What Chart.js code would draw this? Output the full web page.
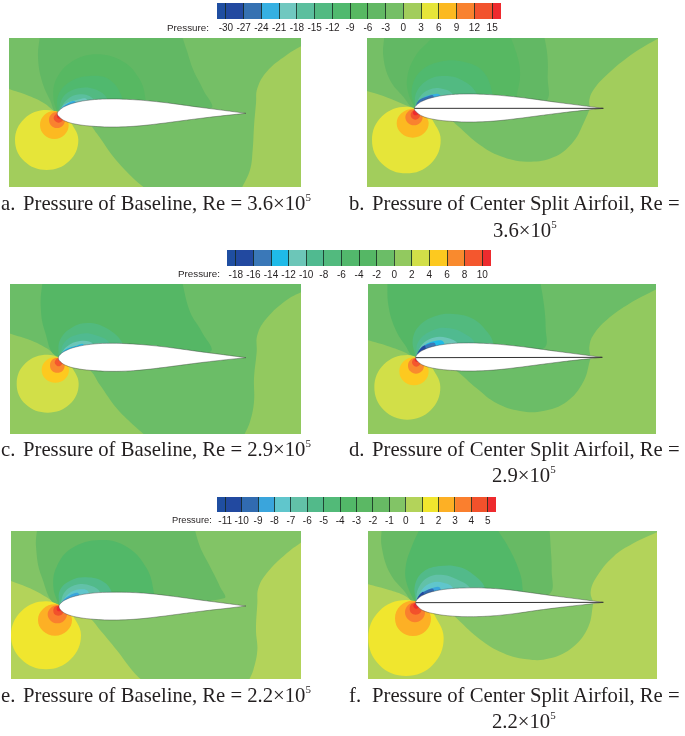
<!DOCTYPE html>
<html>
<head>
<meta charset="utf-8">
<title>Pressure contours</title>
<script src="https://cdn.jsdelivr.net/npm/chart.js@4"></script>
<style>
    html, body { margin: 0; background: #fff; }
    body { position: relative; width: 685px; height: 736px; overflow: hidden; }
    canvas { position: absolute; display: block; filter: blur(0.4px); }
    .cap { position: absolute; font: 20.7px "Liberation Serif", serif; color: #231f20; white-space: nowrap; line-height: 24px; filter: blur(0.3px); }
    .cap sup { font-size: 11px; line-height: 0; vertical-align: 9px; }
    .lab { position: absolute; font-family: "Liberation Sans", sans-serif; color: #231f20; white-space: nowrap; line-height: 12px; filter: blur(0.3px); }
</style>
</head>
<body>
<canvas id="bar1" width="284" height="32" style="left:217px;top:3px"></canvas>
<canvas id="bar2" width="264" height="32" style="left:227px;top:250px"></canvas>
<canvas id="bar3" width="279" height="31" style="left:217px;top:497px"></canvas>
<span class="lab" style="left:167px;top:22px;font-size:9.8px">Pressure:</span>
<span class="lab" style="left:178px;top:268px;font-size:9.8px">Pressure:</span>
<span class="lab" style="left:172px;top:514px;font-size:9.3px">Pressure:</span>

<canvas id="panelA" width="292" height="149" style="left:9px;top:38px"></canvas>
<canvas id="panelB" width="291" height="149" style="left:367px;top:38px"></canvas>
<canvas id="panelC" width="291" height="150" style="left:10px;top:284px"></canvas>
<canvas id="panelD" width="288" height="150" style="left:368px;top:284px"></canvas>
<canvas id="panelE" width="290" height="148" style="left:11px;top:531px"></canvas>
<canvas id="panelF" width="289" height="148" style="left:368px;top:531px"></canvas>

<span class="cap" style="left:1px;top:191px">a.</span>
<span class="cap" style="left:23px;top:191px">Pressure of Baseline, Re = 3.6×10<sup>5</sup></span>
<span class="cap" style="left:349px;top:191px">b.</span>
<span class="cap" style="left:372px;top:191px">Pressure of Center Split Airfoil, Re =</span>
<span class="cap" style="left:493px;top:218px">3.6×10<sup>5</sup></span>
<span class="cap" style="left:1px;top:437px">c.</span>
<span class="cap" style="left:23px;top:437px">Pressure of Baseline, Re = 2.9×10<sup>5</sup></span>
<span class="cap" style="left:349px;top:437px">d.</span>
<span class="cap" style="left:372px;top:437px">Pressure of Center Split Airfoil, Re =</span>
<span class="cap" style="left:492px;top:463px">2.9×10<sup>5</sup></span>
<span class="cap" style="left:1px;top:683px">e.</span>
<span class="cap" style="left:23px;top:683px">Pressure of Baseline, Re = 2.2×10<sup>5</sup></span>
<span class="cap" style="left:349px;top:683px">f.</span>
<span class="cap" style="left:372px;top:683px">Pressure of Center Split Airfoil, Re =</span>
<span class="cap" style="left:492px;top:709px">2.2×10<sup>5</sup></span>

<script>
// colour bar levels
const levels1 = [-30, -27, -24, -21, -18, -15, -12, -9, -6, -3, 0, 3, 6, 9, 12, 15];
const levels2 = [-18, -16, -14, -12, -10, -8, -6, -4, -2, 0, 2, 4, 6, 8, 10];
const levels3 = [-11, -10, -9, -8, -7, -6, -5, -4, -3, -2, -1, 0, 1, 2, 3, 4, 5];
const range1 = [-31.5, 16.5];
const range2 = [-19, 11];
const range3 = [-11.5, 5.5];
const colors1 = ['#1f4ea1', '#2249a0', '#3571b2', '#35b0e2', '#70c8c0', '#5bbf9e', '#52ba82', '#50b96e', '#57b862', '#62b864', '#75bf66', '#a2cd5c', '#e6e539', '#fcb921', '#f9822f', '#f2532e', '#ee2a2e'];
const colors2 = ['#1f4ea1', '#2249a0', '#3a78b8', '#1fbbe8', '#6cc6b8', '#50ba90', '#52ba7e', '#52b86c', '#55b765', '#6bbd67', '#92c95f', '#d2df48', '#fdc91f', '#f98a2e', '#f4572e', '#ed2b2e'];
const colors3 = ['#1f4ea1', '#2249a0', '#316bb0', '#3aa5dc', '#60c6cc', '#62c1a8', '#52ba8a', '#52ba78', '#52b868', '#5bb864', '#67ba64', '#82c466', '#b3d35a', '#f0e62e', '#fdb025', '#fa7f2e', '#f2512b', '#ee2a2e'];

// contour bands: [colour bar box, outline as [x, y]], painted in this order
const bandsA = [
    [11, [[20,262],[28,267],[80,285],[130,308],[172,338],[265,372],[290,400],[340,470],[395,530],[435,565],[435,565],[15,570],[15,570],[20,262]]],
    [11, [[910,135],[860,165],[800,215],[772,265],[768,310],[762,380],[758,450],[750,510],[725,565],[725,565],[910,570],[910,570],[910,135]]],
    [9, [[120,105],[114,170],[125,240],[150,300],[175,340],[400,340],[632,325],[610,270],[580,210],[560,150],[545,105],[545,105],[120,105]]],
    [8, [[172,338],[160,290],[170,235],[215,185],[290,163],[370,185],[420,240],[437,300],[437,340]]],
    [7, [[172,338],[175,285],[210,245],[270,228],[330,240],[368,297],[368,340]]],
    [6, [[175,338],[190,290],[235,265],[285,268],[322,297],[322,340]]],
    [5, [[176,338],[200,300],[240,283],[280,298],[280,340]]],
    [4, [[174,338],[195,312],[230,300],[260,298],[260,340]]],
    [3, [[174,338],[190,318],[225,304],[225,340]]],
    [12, [[207,356],[140,330],[73,356],[45,420],[73,484],[140,510],[207,484],[235,420],[207,356]]],
    [13, [[193,345],[163,333],[133,345],[120,375],[133,405],[163,417],[193,405],[206,375],[193,345]]],
    [14, [[188,343],[171,336],[154,343],[147,360],[154,377],[171,384],[188,377],[195,360],[188,343]]],
    [15, [[186,344],[176,340],[166,344],[161,354],[166,364],[176,368],[186,364],[190,354],[186,344]]],
    [16, [[183,344],[178,342],[173,344],[171,349],[173,354],[178,356],[183,354],[185,349],[183,344]]]
];
const bandsB = [
    [11, [[70,270],[130,288],[223,325],[320,350],[350,375],[420,435],[480,468],[560,485],[640,472],[700,425],[735,360],[750,325],[750,325],[748,300],[760,270],[800,225],[880,160],[960,112],[960,112],[960,570],[960,570],[70,570],[70,570],[70,270]]],
    [9, [[133,105],[130,170],[150,240],[190,290],[225,325],[500,340],[617,305],[623,230],[622,165],[612,105],[612,105],[133,105]]],
    [8, [[225,325],[205,280],[202,230],[225,170],[265,125],[290,105],[290,105],[510,105],[510,105],[535,180],[540,230],[530,293],[530,340]]],
    [7, [[225,325],[215,270],[240,215],[300,185],[370,185],[430,215],[458,285],[458,340]]],
    [6, [[225,325],[228,280],[260,242],[310,228],[365,240],[410,282],[410,340]]],
    [5, [[225,325],[240,290],[265,270],[300,265],[340,285],[340,340]]],
    [3, [[225,325],[240,300],[270,285],[300,285],[300,330]]],
    [2, [[225,325],[235,302],[260,290],[280,287],[280,330]]],
    [12, [[272,349],[199,320],[126,349],[96,420],[126,491],[199,520],[272,491],[302,420],[272,349]]],
    [13, [[252,340],[218,327],[184,340],[170,370],[184,400],[218,413],[252,400],[266,370],[252,340]]],
    [14, [[240,335],[222,328],[204,335],[196,352],[204,369],[222,376],[240,369],[248,352],[240,335]]],
    [15, [[236,335],[226,331],[216,335],[212,345],[216,355],[226,359],[236,355],[240,345],[236,335]]],
    [16, [[233,332],[227,330],[221,332],[219,338],[221,344],[227,346],[233,344],[235,338],[233,332]]]
];
const bandsC = [
    [10, [[25,262],[32,266],[90,285],[140,310],[175,335],[265,372],[300,420],[350,490],[400,540],[440,575],[440,575],[20,575],[20,575],[25,262]]],
    [10, [[910,138],[860,165],[800,220],[772,270],[770,320],[762,400],[762,470],[750,530],[730,575],[730,575],[910,575],[910,575],[910,138]]],
    [8, [[128,105],[122,180],[135,260],[175,335],[400,335],[630,320],[605,260],[570,200],[545,105],[545,105],[128,105]]],
    [6, [[175,335],[180,285],[215,248],[265,234],[320,250],[368,295],[368,335]]],
    [5, [[178,335],[195,290],[240,267],[285,270],[330,295],[330,335]]],
    [4, [[178,335],[200,305],[240,288],[280,297],[280,335]]],
    [3, [[177,335],[195,314],[230,302],[250,298],[250,335]]],
    [11, [[209,354],[143,329],[77,354],[50,416],[77,478],[143,503],[209,478],[236,416],[209,354]]],
    [12, [[195,348],[166,337],[137,348],[125,375],[137,402],[166,413],[195,402],[207,375],[195,348]]],
    [13, [[188,345],[172,339],[156,345],[150,361],[156,377],[172,383],[188,377],[194,361],[188,345]]],
    [14, [[184,344],[176,340],[168,344],[164,352],[168,360],[176,364],[184,360],[188,352],[184,344]]]
];
const bandsD = [
    [10, [[75,282],[85,286],[140,302],[190,320],[227,338],[320,360],[350,378],[410,430],[470,475],[540,498],[610,498],[680,470],[730,410],[752,338],[752,338],[748,305],[760,270],[800,225],[870,175],[955,130],[955,130],[955,575],[955,575],[75,575],[75,575],[75,282]]],
    [8, [[142,105],[145,180],[165,250],[195,300],[228,338],[500,345],[612,310],[617,250],[612,180],[600,105],[600,105],[142,105]]],
    [6, [[228,338],[218,285],[240,240],[290,212],[340,207],[400,222],[445,265],[460,297],[460,340]]],
    [5, [[228,338],[235,290],[280,255],[330,250],[380,270],[405,295],[405,340]]],
    [4, [[230,338],[245,300],[280,278],[320,278],[355,298],[355,340]]],
    [3, [[229,335],[245,310],[270,292],[310,290],[310,335]]],
    [2, [[228,336],[240,312],[262,298],[285,295],[285,336]]],
    [1, [[228,336],[238,315],[255,302],[255,336]]],
    [11, [[272,358],[202,330],[132,358],[103,427],[132,496],[202,524],[272,496],[301,427],[272,358]]],
    [12, [[253,349],[222,337],[191,349],[178,379],[191,409],[222,421],[253,409],[266,379],[253,349]]],
    [13, [[245,345],[228,338],[211,345],[204,362],[211,379],[228,386],[245,379],[252,362],[245,345]]],
    [14, [[238,343],[229,339],[220,343],[216,352],[220,361],[229,365],[238,361],[242,352],[238,343]]],
    [15, [[234,341],[230,339],[226,341],[224,345],[226,349],[230,351],[234,349],[236,345],[234,341]]]
];
const bandsE = [
    [12, [[25,270],[33,273],[90,295],[140,322],[177,347],[265,382],[300,420],[350,480],[400,545],[430,575],[430,575],[20,575],[20,575],[25,270]]],
    [12, [[910,152],[860,190],[800,250],[775,295],[772,340],[768,420],[772,480],[760,540],[745,575],[745,575],[910,575],[910,575],[910,152]]],
    [10, [[112,110],[108,170],[125,260],[177,347],[400,349],[672,325],[660,290],[625,220],[600,170],[582,110],[582,110],[112,110]]],
    [8, [[177,347],[160,290],[170,230],[215,175],[300,150],[380,170],[440,235],[462,310],[462,349]]],
    [6, [[177,347],[180,300],[215,270],[260,262],[310,275],[335,307],[335,349]]],
    [5, [[180,347],[195,305],[235,283],[275,288],[300,307],[300,349]]],
    [4, [[180,347],[205,312],[240,298],[265,305],[265,349]]],
    [3, [[178,347],[200,322],[235,310],[235,349]]],
    [13, [[212,364],[138,334],[64,364],[33,436],[64,508],[138,538],[212,508],[243,436],[212,364]]],
    [14, [[201,357],[165,343],[129,357],[114,390],[129,423],[165,437],[201,423],[216,390],[201,357]]],
    [15, [[192,354],[172,346],[152,354],[143,373],[152,392],[172,400],[192,392],[201,373],[192,354]]],
    [16, [[186,351],[175,347],[164,351],[160,362],[164,373],[175,377],[186,373],[190,362],[186,351]]],
    [17, [[184,350],[178,348],[172,350],[170,356],[172,362],[178,364],[184,362],[186,356],[184,350]]]
];
const bandsF = [
    [12, [[75,280],[85,283],[140,298],[190,315],[227,338],[330,365],[350,385],[410,440],[480,485],[560,508],[630,505],[700,470],[745,410],[760,338],[760,338],[752,305],[770,260],[820,200],[880,160],[955,125],[955,125],[955,575],[955,575],[75,575],[75,575],[75,280]]],
    [10, [[125,110],[125,170],[150,250],[190,300],[228,338],[500,345],[628,312],[635,240],[632,170],[628,110],[628,110],[125,110]]],
    [8, [[225,338],[200,280],[197,230],[215,170],[240,115],[240,115],[470,115],[470,115],[510,180],[540,250],[548,298],[548,340]]],
    [6, [[228,338],[225,285],[250,245],[300,228],[360,232],[410,262],[435,295],[435,340]]],
    [5, [[228,338],[235,295],[265,262],[310,255],[350,268],[390,295],[390,340]]],
    [4, [[230,338],[245,300],[275,278],[310,278],[340,295],[340,340]]],
    [3, [[229,336],[245,310],[270,297],[300,293],[300,336]]],
    [2, [[228,336],[238,315],[258,302],[280,297],[280,336]]],
    [1, [[228,336],[236,318],[250,306],[250,336]]],
    [13, [[278,363],[198,330],[118,363],[85,444],[118,525],[198,558],[278,525],[311,444],[278,363]]],
    [14, [[257,347],[219,332],[181,347],[165,385],[181,423],[219,438],[257,423],[273,385],[257,347]]],
    [15, [[246,346],[225,337],[204,346],[195,367],[204,388],[225,397],[246,388],[255,367],[246,346]]],
    [16, [[240,343],[227,338],[214,343],[209,356],[214,369],[227,374],[240,369],[245,356],[240,343]]],
    [17, [[235,341],[229,338],[223,341],[220,347],[223,353],[229,356],[235,353],[238,347],[235,341]]]
];

// airfoil outlines, trailing edge round to trailing edge
const foilA = [[738,340],[670,331],[600,322],[520,311],[450,303],[380,298],[320,297],[270,300],[225,308],[195,319],[178,331],[172,341],[178,351],[195,363],[225,372],[270,378],[330,381],[400,379],[470,372],[540,363],[610,354],[680,346],[738,340]];
const foilB = [[790,325],[721,316],[651,307],[571,296],[501,288],[431,283],[371,282],[321,285],[276,293],[246,304],[229,316],[223,326],[229,336],[246,348],[276,357],[321,363],[381,366],[451,364],[521,357],[591,348],[661,339],[731,331],[790,325]];
const foilC = [[738,338],[670,329],[600,320],[520,309],[450,301],[380,296],[320,295],[272,298],[227,306],[197,317],[180,329],[175,339],[180,349],[197,361],[227,370],[272,376],[330,379],[400,377],[470,370],[540,361],[610,352],[680,344],[738,338]];
const foilD = [[787,337],[719,328],[650,319],[570,308],[500,300],[430,295],[370,294],[322,297],[277,305],[248,316],[232,328],[227,338],[232,348],[248,360],[277,369],[322,375],[380,378],[450,376],[520,369],[590,360],[660,351],[730,343],[787,337]];
const foilE = [[738,348],[670,339],[600,330],[520,319],[450,311],[380,307],[320,307],[272,310],[227,318],[197,329],[182,340],[177,349],[182,360],[199,372],[229,381],[272,387],[330,390],[400,388],[470,381],[540,372],[610,363],[680,355],[738,348]];
const foilF = [[790,337],[722,328],[652,319],[572,308],[502,299],[432,294],[372,294],[322,297],[277,305],[248,316],[232,328],[227,338],[232,348],[248,361],[277,370],[322,377],[382,380],[452,378],[522,371],[592,361],[662,352],[732,344],[790,337]];

// split line of the center split airfoil
const splitB = [[223,325],[790,325]];
const splitD = [[227,338],[787,337]];
const splitF = [[227,338],[790,337]];

const toPoints = list => list.map(p => ({ x: p[0], y: p[1] }));

const drawPanel = (id, bands, colors, foil, split, bgBox, view) => {
    const n = bands.length + 4;
    const datasets = [];
    const add = (points, extra) => {
        const i = datasets.length;
        datasets.push(Object.assign({
            data: toPoints(points),
            showLine: true,
            pointRadius: 0,
            borderWidth: 0,
            order: n - i
        }, extra));
    };
    add([[view[0], view[2]], [view[1], view[2]], [view[1], view[3]], [view[0], view[3]], [view[0], view[2]]], { fill: 'shape', backgroundColor: colors[bgBox], tension: 0 });
    bands.forEach(b => add(b[1], { fill: 'shape', backgroundColor: colors[b[0]], tension: 0.4 }));
    add(foil, { fill: 'shape', backgroundColor: '#fff', borderColor: 'rgba(60,60,60,0.6)', borderWidth: 0.7, tension: 0.4 });
    if (split) add(split, { fill: false, borderColor: '#333', borderWidth: 1, tension: 0 });

    new Chart(document.getElementById(id).getContext('2d'), {
        type: 'scatter',
        data: { datasets: datasets },
        options: {
            responsive: false,
            animation: false,
            events: [],
            layout: { padding: 0 },
            plugins: { legend: { display: false }, tooltip: { enabled: false } },
            scales: {
                x: { display: false, min: view[0], max: view[1] },
                y: { display: false, min: view[2], max: view[3], reverse: true }
            }
        }
    });
};

const drawBar = (id, levels, colors, range, axisHeight) => {
    const datasets = colors.map((c, i) => ({
        data: [[i === 0 ? range[0] : levels[i - 1], i === levels.length ? range[1] : levels[i]]],
        backgroundColor: c,
        borderWidth: 0,
        barPercentage: 1,
        categoryPercentage: 1,
        grouped: false
    }));
    new Chart(document.getElementById(id).getContext('2d'), {
        type: 'bar',
        data: { labels: ['Pressure'], datasets: datasets },
        options: {
            indexAxis: 'y',
            responsive: false,
            animation: false,
            events: [],
            layout: { padding: 0 },
            plugins: { legend: { display: false }, tooltip: { enabled: false } },
            scales: {
                x: {
                    min: range[0],
                    max: range[1],
                    afterBuildTicks: scale => { scale.ticks = levels.map(v => ({ value: v })); },
                    afterFit: scale => {
                        scale.height = axisHeight;
                        scale.paddingLeft = 0;
                        scale.paddingRight = 0;
                    },
                    border: { display: false },
                    grid: { color: 'rgba(20,40,30,0.8)', z: 1, drawTicks: false, lineWidth: 1 },
                    ticks: {
                        autoSkip: false,
                        maxRotation: 0,
                        padding: 3,
                        color: '#231f20',
                        font: { family: '"Liberation Sans", sans-serif', size: 10 }
                    }
                },
                y: { display: false }
            }
        }
    });
};

drawBar('bar1', levels1, colors1, range1, 16);
drawBar('bar2', levels2, colors2, range2, 16);
drawBar('bar3', levels3, colors3, range3, 16);

drawPanel('panelA', bandsA, colors1, foilA, null, 10, [27, 903, 114, 561]);
drawPanel('panelB', bandsB, colors1, foilB, splitB, 10, [81, 954, 114, 561]);
drawPanel('panelC', bandsC, colors2, foilC, null, 9, [30, 903, 117, 567]);
drawPanel('panelD', bandsD, colors2, foilD, splitD, 9, [84, 948, 117, 567]);
drawPanel('panelE', bandsE, colors3, foilE, null, 11, [33, 903, 123, 567]);
drawPanel('panelF', bandsF, colors3, foilF, splitF, 11, [84, 951, 123, 567]);
</script>
</body>
</html>
